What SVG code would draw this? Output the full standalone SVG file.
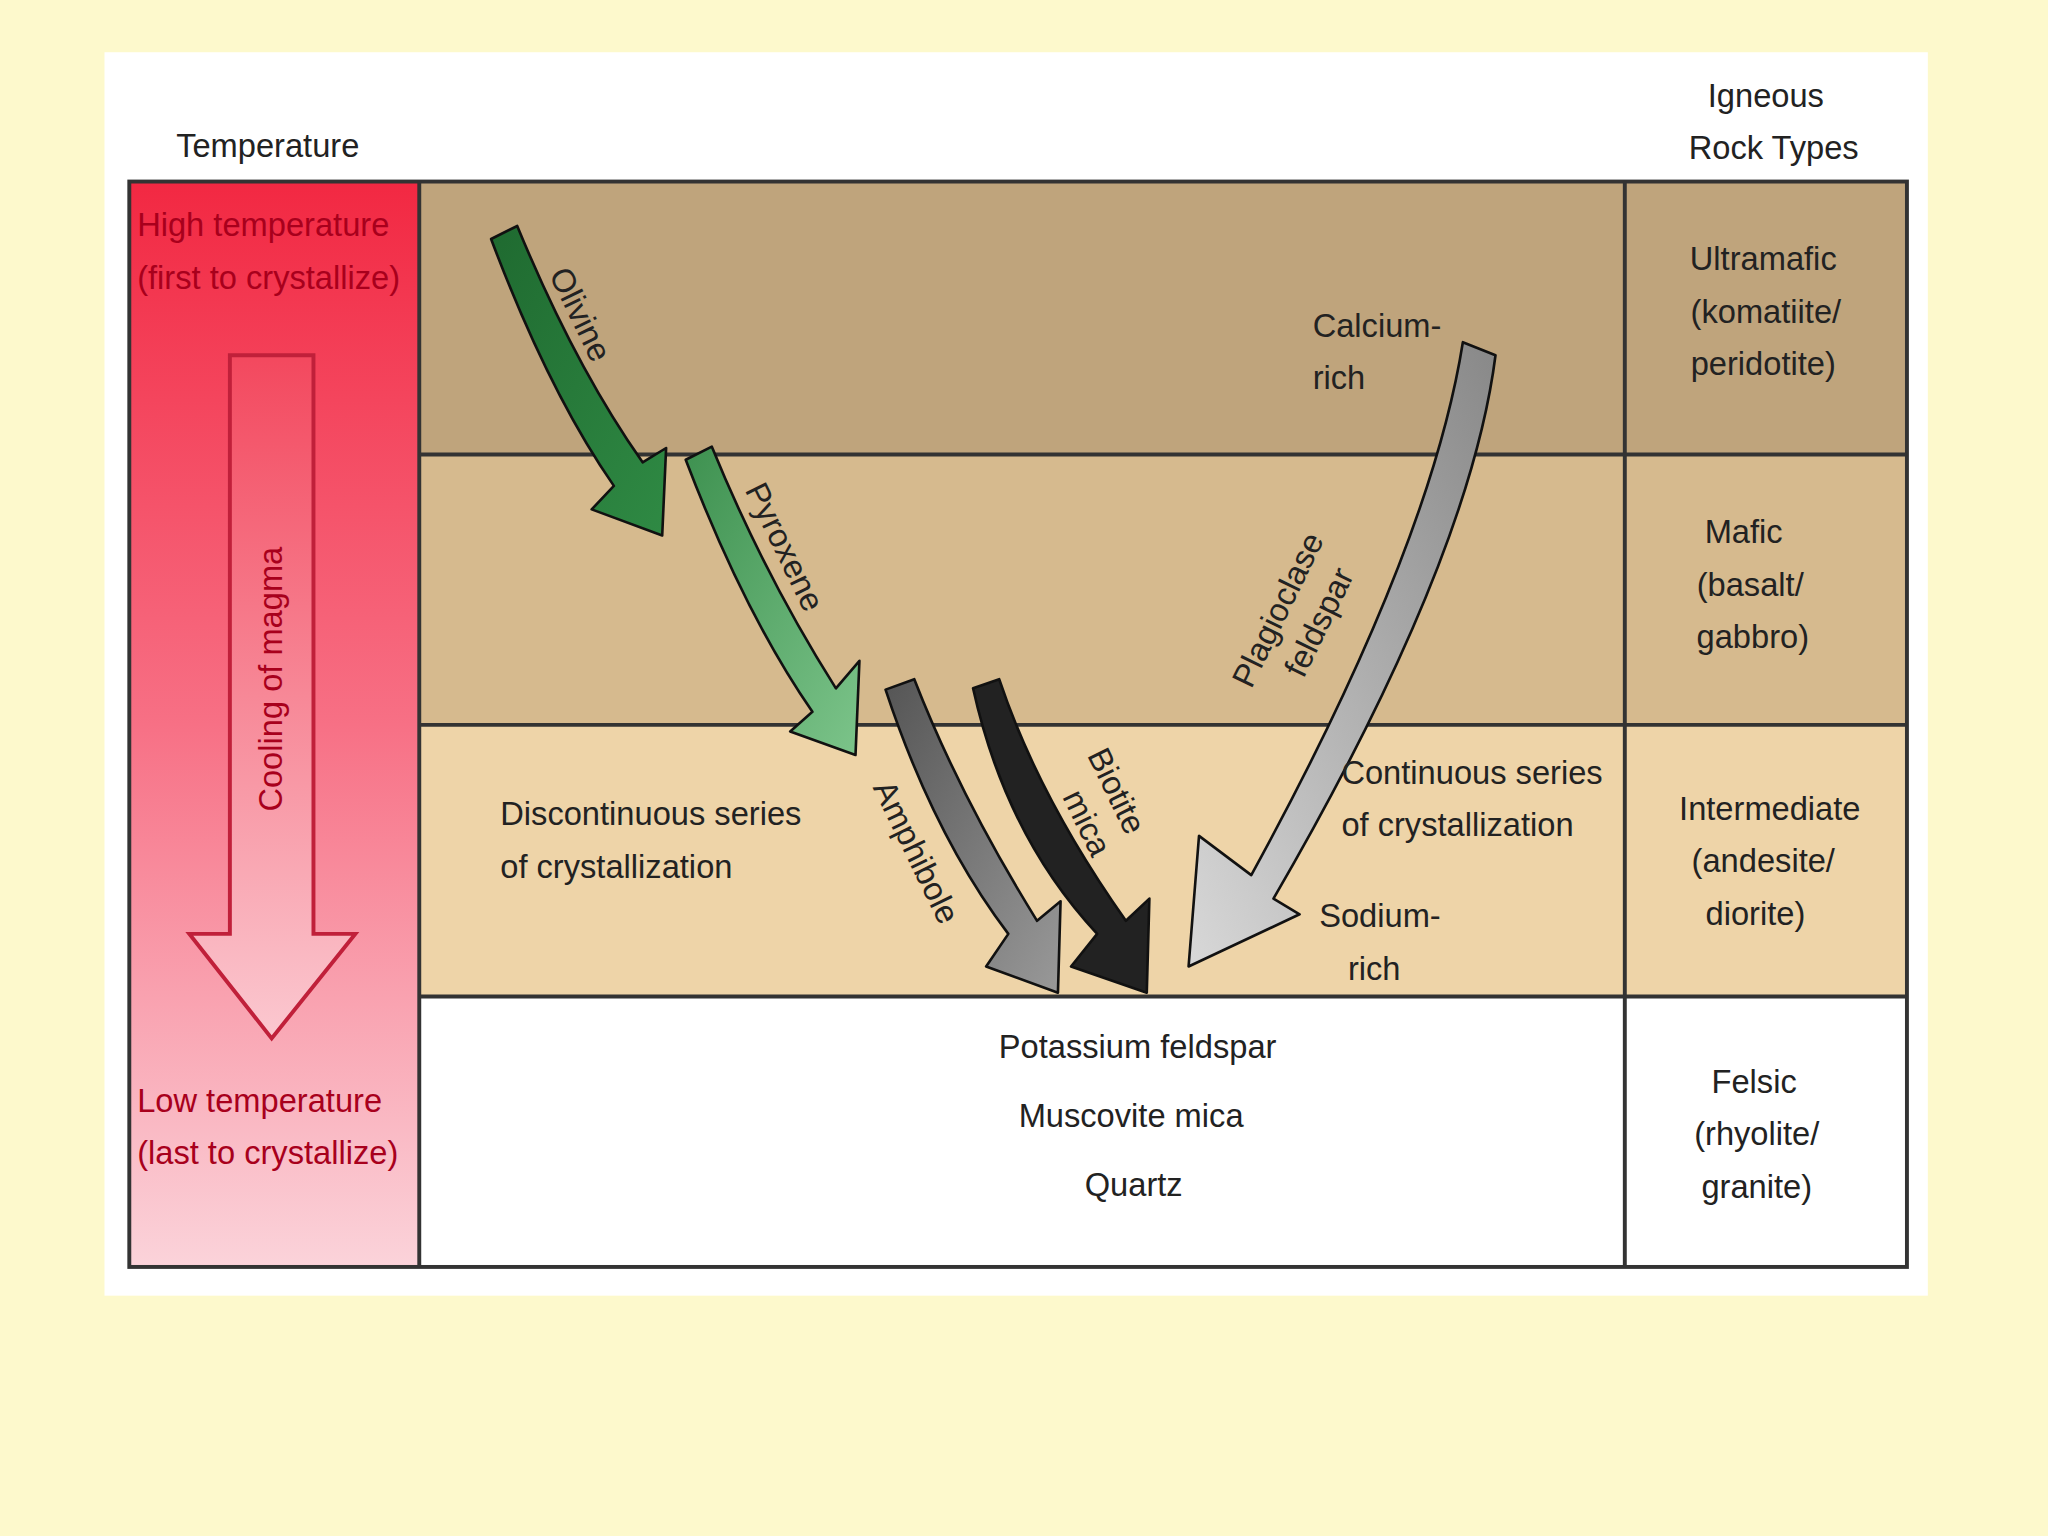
<svg xmlns="http://www.w3.org/2000/svg" width="2048" height="1536" viewBox="0 0 2048 1536">
<defs>
<linearGradient id="red" x1="0" y1="0" x2="0" y2="1"><stop offset="0" stop-color="#f22842"/><stop offset="0.5" stop-color="#f77085"/><stop offset="1" stop-color="#fbd3da"/></linearGradient>
<linearGradient id="pink" x1="0" y1="0" x2="0" y2="1"><stop offset="0" stop-color="#f3485e"/><stop offset="1" stop-color="#fbc8d0"/></linearGradient>
<linearGradient id="g1" x1="0" y1="0" x2="1" y2="1"><stop offset="0" stop-color="#1f6a30"/><stop offset="1" stop-color="#2f8a44"/></linearGradient>
<linearGradient id="g2" x1="0" y1="0" x2="1" y2="1"><stop offset="0" stop-color="#3e9150"/><stop offset="1" stop-color="#7cc48a"/></linearGradient>
<linearGradient id="gr1" x1="0" y1="0" x2="1" y2="1"><stop offset="0" stop-color="#555"/><stop offset="1" stop-color="#999"/></linearGradient>
<linearGradient id="gr3" x1="1" y1="0" x2="0" y2="1"><stop offset="0" stop-color="#888"/><stop offset="1" stop-color="#d8d8d8"/></linearGradient>
<style>
text{font-family:"Liberation Sans",Arial,sans-serif;font-size:25px;fill:#222}
.r{fill:#a8001c}
.a{stroke:#111;stroke-width:2;stroke-linejoin:round}
</style>
</defs>
<rect width="2048" height="1536" fill="#fdf9cc"/>
<g transform="scale(1.30612)">
<rect x="80" y="40" width="1396" height="952" fill="#fff"/>
<g id="table">
<rect x="99" y="139" width="222" height="831" fill="url(#red)"/>
<rect x="321" y="139" width="1139" height="209" fill="#bfa47c"/>
<rect x="321" y="348" width="1139" height="207" fill="#d6ba8e"/>
<rect x="321" y="555" width="1139" height="208" fill="#eed4a8"/>
<rect x="321" y="763" width="1139" height="207" fill="#fff"/>
<g stroke="#333" stroke-width="3" fill="none">
<rect x="99" y="139" width="1361" height="831"/>
<line x1="321" y1="139" x2="321" y2="970"/>
<line x1="1244" y1="139" x2="1244" y2="970"/>
<line x1="321" y1="348" x2="1460" y2="348"/>
<line x1="321" y1="555" x2="1460" y2="555"/>
<line x1="321" y1="763" x2="1460" y2="763"/>
</g>
</g>
<text x="205" y="120" text-anchor="middle">Temperature</text>
<text x="1352" y="82" text-anchor="middle">Igneous</text>
<text x="1358" y="122" text-anchor="middle">Rock Types</text>
<text x="105" y="181" class="r">High temperature</text>
<text x="105" y="221" class="r">(first to crystallize)</text>
<text x="105" y="851" class="r">Low temperature</text>
<text x="105" y="891" class="r">(last to crystallize)</text>
<g id="cooling">
<path d="M176,272 L240,272 L240,715 L272,715 L208,795 L145,715 L176,715 Z" fill="url(#pink)" stroke="#c0203a" stroke-width="3"/>
<text transform="translate(216,520) rotate(-90)" text-anchor="middle" class="r">Cooling of magma</text>
</g>
<g id="connectors">
<path class="a" fill="url(#g1)" d="M376,183 Q420,300 470,372 L453,390 L507,410 L510,343 L492,354 Q440,280 396,173 Z"/>
<path class="a" fill="url(#g2)" d="M525,352 Q570,470 622,545 L605,560 L655,578 L658,506 L640,527 Q585,440 545,342 Z"/>
<path class="a" fill="url(#gr1)" d="M678,528 Q715,640 772,715 L755,740 L810,760 L812,690 L794,705 Q735,610 700,520 Z"/>
<path class="a" fill="#222" d="M745,527 Q770,640 840,715 L820,740 L878,760 L880,688 L862,705 Q795,610 765,520 Z"/>
<path class="a" fill="url(#gr3)" d="M1120,262 Q1095,420 958,670 L918,640 L910,740 L995,700 L975,688 Q1125,430 1145,272 Z"/>
</g>
<text transform="translate(420,210) rotate(64)">Olivine</text>
<text transform="translate(570,375) rotate(64)">Pyroxene</text>
<text transform="translate(668,603) rotate(64)">Amphibole</text>
<text transform="translate(832,578) rotate(64)">Biotite</text>
<text transform="translate(813,610) rotate(64)">mica</text>
<text transform="translate(958,528) rotate(-64)">Plagioclase</text>
<text transform="translate(998,520) rotate(-64)">feldspar</text>
<text x="1005" y="258">Calcium-</text>
<text x="1005" y="298">rich</text>
<text x="1027" y="600">Continuous series</text>
<text x="1027" y="640">of crystallization</text>
<text x="1010" y="710">Sodium-</text>
<text x="1032" y="750">rich</text>
<text x="383" y="632">Discontinuous series</text>
<text x="383" y="672">of crystallization</text>
<text x="871" y="810" text-anchor="middle">Potassium feldspar</text>
<text x="866" y="863" text-anchor="middle">Muscovite mica</text>
<text x="868" y="916" text-anchor="middle">Quartz</text>
<g text-anchor="middle">
<text x="1350" y="207">Ultramafic</text>
<text x="1352" y="247">(komatiite/</text>
<text x="1350" y="287">peridotite)</text>
<text x="1335" y="416">Mafic</text>
<text x="1340" y="456">(basalt/</text>
<text x="1342" y="496">gabbro)</text>
<text x="1355" y="628">Intermediate</text>
<text x="1350" y="668">(andesite/</text>
<text x="1344" y="708">diorite)</text>
<text x="1343" y="837">Felsic</text>
<text x="1345" y="877">(rhyolite/</text>
<text x="1345" y="917">granite)</text>
</g>
</g>
</svg>
